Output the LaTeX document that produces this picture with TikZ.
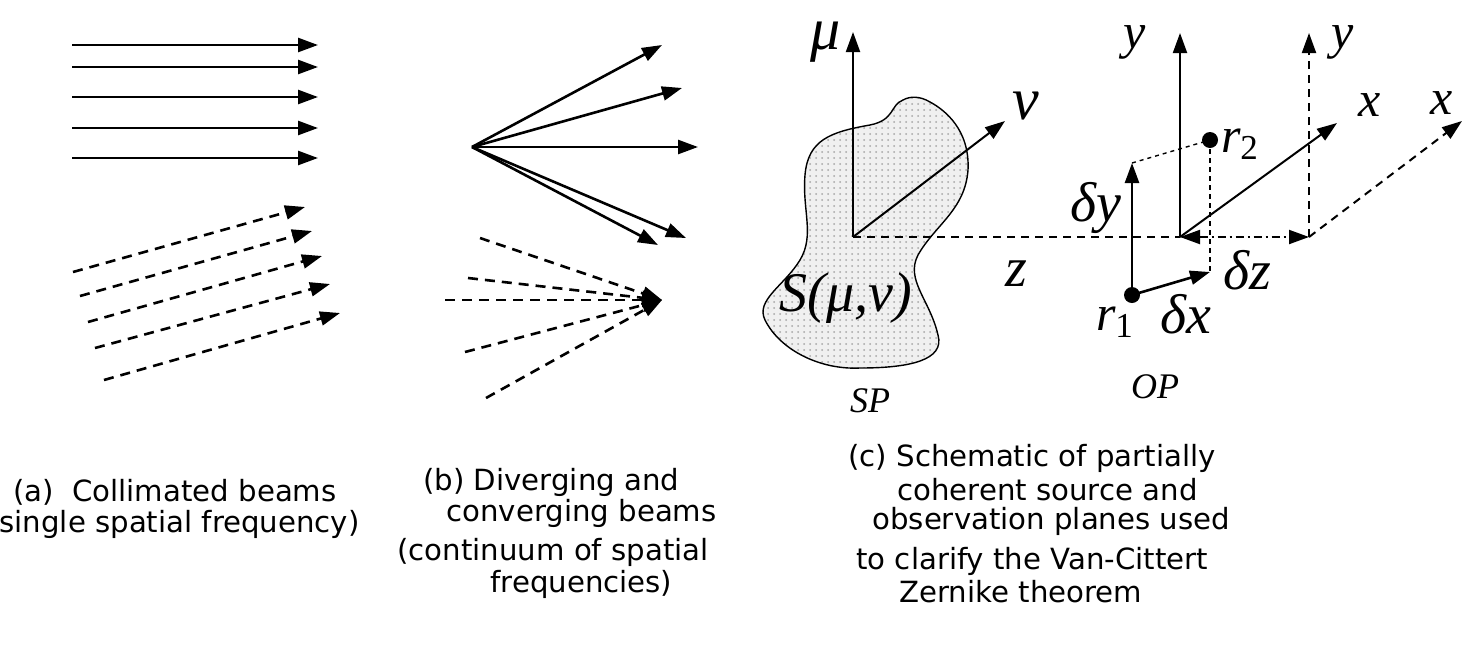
\documentclass[tikz,border=0pt]{standalone}
\usepackage{fontspec}
\setmainfont{Liberation Serif}
\setsansfont{DejaVu Sans}
\usetikzlibrary{arrows.meta,patterns}
\begin{document}
\begin{tikzpicture}[x=0.5pt,y=-0.5pt,
  ar/.style={line width=1.3pt,-{Triangle[length=10pt,width=7pt]}},
  dar/.style={ar,dash pattern=on 5pt off 3.5pt},
  thinl/.style={line width=0.7pt},
  lab/.style={font=\fontsize{25}{25}\selectfont\itshape,inner sep=0pt},
  captxt/.style={font=\sffamily\fontsize{14.6}{16}\selectfont,anchor=west,inner sep=0pt}]
\useasboundingbox (0,0) rectangle (1476,644);
% (a)
\foreach \y in {45,67,97,128,158} \draw[ar] (72,\y) -- (318,\y);
\draw[dar] (73,272) -- (305,207);
\draw[dar] (80,296) -- (312,231);
\draw[dar] (88,322) -- (322,256);
\draw[dar] (95,348) -- (330,284);
\draw[dar] (104,380) -- (340,313);
% (b)
\coordinate (o) at (472,147);
\foreach \p in {(662,45),(682,88),(698,147),(686,238),(658,245)} \draw[ar] (o) -- \p;
\coordinate (f) at (662,300);
\foreach \p in {(480,238),(468,278),(445,300),(465,352),(486,398)} \draw[dar] \p -- (f);
% (c) blob
\def\blob{(903,100) .. controls (890,105) and (895,120) .. (870,125)
  .. controls (830,132) and (808,140) .. (805,175)
  .. controls (802,210) and (815,235) .. (800,260)
  .. controls (785,285) and (755,300) .. (765,320)
  .. controls (780,350) and (820,370) .. (860,368)
  .. controls (910,368) and (945,360) .. (938,335)
  .. controls (930,300) and (905,280) .. (918,255)
  .. controls (935,225) and (965,210) .. (968,170)
  .. controls (970,130) and (945,110) .. (930,102)
  .. controls (920,96) and (910,96) .. (903,100) -- cycle}
\fill[gray!12] \blob;
\fill[pattern=dots,pattern color=gray!70] \blob;
\draw[thinl] \blob;
\coordinate (O1) at (853,237);
\draw[ar,line width=1pt] (O1) -- (853,32);
\draw[ar,line width=1pt] (O1) -- (1005,121);
\coordinate (O2) at (1180,237);
\coordinate (O3) at (1309,237);
\draw[thinl,dash pattern=on 4pt off 3pt] (O1) -- (O2);
\draw[line width=1pt,dash pattern=on 4pt off 2pt on 1pt off 2pt,{Triangle[length=10pt,width=7pt]}-{Triangle[length=10pt,width=7pt]}] (O2) -- (O3);
\draw[ar,line width=1pt] (O2) -- (1180,33);
\draw[ar,line width=1pt] (O2) -- (1337,123);
\draw[ar,line width=1pt,dash pattern=on 4pt off 3pt] (O3) -- (1309,33);
\draw[ar,line width=1pt,dash pattern=on 4pt off 3pt] (O3) -- (1462,121);
\coordinate (r1) at (1132,295);
\coordinate (r2) at (1210,140);
\coordinate (dyt) at (1132,163);
\coordinate (dxt) at (1210,272);
\fill (r1) circle (4pt);
\fill (r2) circle (4pt);
\draw[ar] (r1) -- (dyt);
\draw[ar] (r1) -- (dxt);
\draw[thinl,dash pattern=on 2pt off 2pt] (dyt) -- (r2);
\draw[thinl,dash pattern=on 2.5pt off 2pt] (r2) -- (dxt);
% labels
\node[lab,font=\fontsize{30}{30}\selectfont\itshape] (mu) at (826,42) {μ};
\node[lab,font=\fontsize{30}{30}\selectfont\itshape] (nu) at (1026,106) {ν};
\node[lab] (y1) at (1135,42) {y};
\node[lab] (y2) at (1343,42) {y};
\node[lab] (x1) at (1370,105) {x};
\node[lab] (x2) at (1442,103) {x};
\node[lab] (r2l) at (1240,144) {r\textsubscript{\upshape 2}};
\node[lab] (r1l) at (1115,322) {r\textsubscript{\upshape 1}};
\node[lab,font=\fontsize{28}{28}\selectfont\itshape] (dy) at (1096,208) {δy};
\node[lab,font=\fontsize{28}{28}\selectfont\itshape] (dz) at (1247,270) {δz};
\node[lab,font=\fontsize{28}{28}\selectfont\itshape] (dx) at (1186,314) {δx};
\node[lab,font=\fontsize{28}{28}\selectfont\itshape] (z) at (1016,274) {z};
\node[lab,font=\fontsize{28}{28}\selectfont\itshape] (S) at (846,298) {S(μ,ν)};
\node[lab,font=\fontsize{18}{18}\selectfont\itshape] (SP) at (870,401) {SP};
\node[lab,font=\fontsize{18}{18}\selectfont\itshape] (OP) at (1155,387) {OP};
% captions
\node[captxt,anchor=east] (a1) at (337,492) {(a)\ \ Collimated beams};
\node[captxt,anchor=east] (a2) at (360,524) {(single spatial frequency)};
\node[captxt] (b1) at (423,482) {(b) Diverging and};
\node[captxt] (b2) at (446,513) {converging beams};
\node[captxt] (b3) at (397,552) {(continuum of spatial};
\node[captxt] (b4) at (490,584) {frequencies)};
\node[captxt] (c1) at (848,458) {(c) Schematic of partially};
\node[captxt] (c2) at (897,490) {coherent source and};
\node[captxt] (c3) at (872,521) {observation planes used};
\node[captxt] (c4) at (856,561) {to clarify the Van-Cittert};
\node[captxt] (c5) at (899,592) {Zernike theorem};
\end{tikzpicture}
\end{document}
